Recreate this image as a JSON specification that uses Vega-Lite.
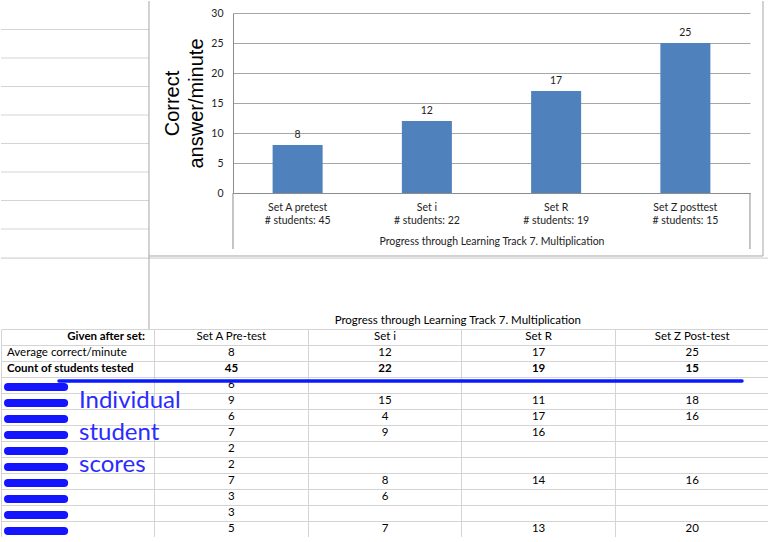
{
  "$schema": "https://vega.github.io/schema/vega-lite/v6.json",
  "padding": 0,
  "background": "white",
  "config": {
    "font": "Lato",
    "view": {"stroke": null},
    "text": {"font": "Lato"}
  },
  "datasets": {
    "bars": [
      {"set": "Set A pretest|# students: 45", "avg": 8},
      {"set": "Set i|# students: 22", "avg": 12},
      {"set": "Set R|# students: 19", "avg": 17},
      {"set": "Set Z posttest|# students: 15", "avg": 25}
    ],
    "sheetRows": [
      {"k": 1}, {"k": 2}, {"k": 3}, {"k": 4}, {"k": 5}, {"k": 6}, {"k": 7}, {"k": 8}
    ],
    "cells": [
      {"row": "head", "col": "label", "text": "Given after set:"},
      {"row": "head", "col": "Set A Pre-test", "text": "Set A Pre-test"},
      {"row": "head", "col": "Set i", "text": "Set i"},
      {"row": "head", "col": "Set R", "text": "Set R"},
      {"row": "head", "col": "Set Z Post-test", "text": "Set Z Post-test"},
      {"row": "avg", "col": "label", "text": "Average correct/minute"},
      {"row": "avg", "col": "Set A Pre-test", "text": "8"},
      {"row": "avg", "col": "Set i", "text": "12"},
      {"row": "avg", "col": "Set R", "text": "17"},
      {"row": "avg", "col": "Set Z Post-test", "text": "25"},
      {"row": "count", "col": "label", "text": "Count of students tested"},
      {"row": "count", "col": "Set A Pre-test", "text": "45"},
      {"row": "count", "col": "Set i", "text": "22"},
      {"row": "count", "col": "Set R", "text": "19"},
      {"row": "count", "col": "Set Z Post-test", "text": "15"},
      {"row": "s01", "col": "label", "text": ""},
      {"row": "s01", "col": "Set A Pre-test", "text": "6"},
      {"row": "s02", "col": "label", "text": ""},
      {"row": "s02", "col": "Set A Pre-test", "text": "9"},
      {"row": "s02", "col": "Set i", "text": "15"},
      {"row": "s02", "col": "Set R", "text": "11"},
      {"row": "s02", "col": "Set Z Post-test", "text": "18"},
      {"row": "s03", "col": "label", "text": ""},
      {"row": "s03", "col": "Set A Pre-test", "text": "6"},
      {"row": "s03", "col": "Set i", "text": "4"},
      {"row": "s03", "col": "Set R", "text": "17"},
      {"row": "s03", "col": "Set Z Post-test", "text": "16"},
      {"row": "s04", "col": "label", "text": ""},
      {"row": "s04", "col": "Set A Pre-test", "text": "7"},
      {"row": "s04", "col": "Set i", "text": "9"},
      {"row": "s04", "col": "Set R", "text": "16"},
      {"row": "s05", "col": "label", "text": ""},
      {"row": "s05", "col": "Set A Pre-test", "text": "2"},
      {"row": "s06", "col": "label", "text": ""},
      {"row": "s06", "col": "Set A Pre-test", "text": "2"},
      {"row": "s07", "col": "label", "text": ""},
      {"row": "s07", "col": "Set A Pre-test", "text": "7"},
      {"row": "s07", "col": "Set i", "text": "8"},
      {"row": "s07", "col": "Set R", "text": "14"},
      {"row": "s07", "col": "Set Z Post-test", "text": "16"},
      {"row": "s08", "col": "label", "text": ""},
      {"row": "s08", "col": "Set A Pre-test", "text": "3"},
      {"row": "s08", "col": "Set i", "text": "6"},
      {"row": "s09", "col": "label", "text": ""},
      {"row": "s09", "col": "Set A Pre-test", "text": "3"},
      {"row": "s10", "col": "label", "text": ""},
      {"row": "s10", "col": "Set A Pre-test", "text": "5"},
      {"row": "s10", "col": "Set i", "text": "7"},
      {"row": "s10", "col": "Set R", "text": "13"},
      {"row": "s10", "col": "Set Z Post-test", "text": "20"}
    ],
    "notes": [
      {"note": "Individual|student|scores", "tableTitle": "Progress through Learning Track 7. Multiplication"}
    ]
  },
  "vconcat": [
    {
      "width": 517,
      "height": 180,
      "data": {"name": "bars"},
      "encoding": {
        "x": {
          "field": "set", "type": "nominal", "sort": null,
          "scale": {"paddingInner": 0.613, "paddingOuter": 0.3065},
          "title": "Progress through Learning Track 7. Multiplication",
          "axis": {
            "labelExpr": "split(datum.label, '|')",
            "labelAngle": 0,
            "labelFont": "Lato",
            "labelFontSize": 10.5,
            "labelColor": "#222",
            "labelLineHeight": 13,
            "labelPadding": 9,
            "ticks": false,
            "domainColor": "#8c8c8c",
            "titleFont": "Lato",
            "titleFontSize": 10.5,
            "titleFontWeight": "normal",
            "titleColor": "#222",
            "titlePadding": 11
          }
        },
        "y": {
          "field": "avg", "type": "quantitative",
          "scale": {"domain": [0, 30], "nice": false},
          "title": ["Correct", "answer/minute"],
          "axis": {
            "values": [0, 5, 10, 15, 20, 25, 30],
            "labelFont": "Lato",
            "labelFontSize": 10.5,
            "labelColor": "#222",
            "labelPadding": 10,
            "ticks": false,
            "domainColor": "#8c8c8c",
            "gridColor": "#a6a6a6",
            "titleFont": "Liberation Sans",
            "titleFontSize": 20,
            "titleFontWeight": "normal",
            "titleColor": "#000",
            "titleLineHeight": 24,
            "titlePadding": 4
          }
        }
      },
      "layer": [
        {"mark": {"type": "bar", "color": "#4f81bd"}},
        {
          "mark": {"type": "text", "dy": -5, "fontSize": 10.5, "color": "#222", "baseline": "bottom", "font": "Lato"},
          "encoding": {"text": {"field": "avg", "type": "quantitative"}}
        }
      ]
    },
    {
      "width": 536,
      "height": 208,
      "encoding": {
        "x": {
          "field": "col", "type": "nominal",
          "scale": {"domain": ["label", "Set A Pre-test", "Set i", "Set R", "Set Z Post-test"], "range": [-232, 536], "paddingInner": 0, "paddingOuter": 0},
          "axis": {"orient": "top", "labels": false, "ticks": false, "domain": false, "title": null,
                   "grid": true, "gridColor": "#d4d4d4", "bandPosition": 0}
        }
      },
      "layer": [
        {
          "encoding": {
            "y": {
              "field": "row", "type": "nominal",
              "scale": {"domain": ["head", "avg", "count", "s01", "s02", "s03", "s04", "s05", "s06", "s07", "s08", "s09", "s10"], "paddingInner": 0, "paddingOuter": 0},
              "axis": {"labels": false, "ticks": false, "domain": false, "title": null,
                       "grid": true, "gridColor": "#d4d4d4", "bandPosition": 0}
            }
          },
          "layer": [
            {
              "data": {"name": "notes"},
              "mark": {"type": "text", "align": "center", "fontSize": 11.5, "color": "#000", "xOffset": -4},
              "encoding": {
                "x": {"datum": "Set i", "bandPosition": 1},
                "y": {"datum": "head", "bandPosition": -0.5},
                "text": {"field": "tableTitle"}
              }
            },
            {
              "data": {"name": "cells"},
              "transform": [{"filter": "datum.row == 'head' && datum.col == 'label'"}],
              "mark": {"type": "text", "align": "right", "fontSize": 11.5, "fontWeight": "bold", "color": "#000", "dx": -4},
              "encoding": {
                "x": {"field": "col", "type": "nominal", "bandPosition": 0.9635},
                "text": {"field": "text"}
              }
            },
            {
              "data": {"name": "cells"},
              "transform": [{"filter": "datum.col == 'label' && datum.row == 'avg'"}],
              "mark": {"type": "text", "align": "left", "fontSize": 11.5, "color": "#000", "dx": 6},
              "encoding": {
                "x": {"field": "col", "type": "nominal", "bandPosition": 0},
                "text": {"field": "text"}
              }
            },
            {
              "data": {"name": "cells"},
              "transform": [{"filter": "datum.col == 'label' && datum.row == 'count'"}],
              "mark": {"type": "text", "align": "left", "fontSize": 11.5, "fontWeight": "bold", "color": "#000", "dx": 6},
              "encoding": {
                "x": {"field": "col", "type": "nominal", "bandPosition": 0},
                "text": {"field": "text"}
              }
            },
            {
              "data": {"name": "cells"},
              "transform": [{"filter": "datum.col != 'label' && datum.row != 'count'"}],
              "mark": {"type": "text", "align": "center", "fontSize": 11.5, "color": "#000"},
              "encoding": {"text": {"field": "text"}}
            },
            {
              "data": {"name": "cells"},
              "transform": [{"filter": "datum.col != 'label' && datum.row == 'count'"}],
              "mark": {"type": "text", "align": "center", "fontSize": 11.5, "fontWeight": "bold", "color": "#000"},
              "encoding": {"text": {"field": "text"}}
            },
            {
              "data": {"name": "cells"},
              "transform": [{"filter": "datum.col == 'label' && indexof(datum.row, 's') == 0"}],
              "mark": {"type": "rule", "color": "#1414ff", "strokeWidth": 8, "strokeCap": "round", "xOffset": 7, "x2Offset": -6},
              "encoding": {
                "x": {"field": "col", "type": "nominal", "bandPosition": 0},
                "x2": {"datum": "label", "bandPosition": 0.45},
                "y": {"field": "row", "type": "nominal", "bandPosition": 0.62}
              }
            },
            {
              "data": {"name": "notes"},
              "mark": {"type": "rule", "color": "#0a1aff", "strokeWidth": 3.5, "strokeCap": "round", "xOffset": 58, "x2Offset": -27, "yOffset": 4},
              "encoding": {
                "x": {"datum": "label", "bandPosition": 0},
                "x2": {"datum": "Set Z Post-test", "bandPosition": 1},
                "y": {"datum": "s01", "bandPosition": 0}
              }
            },
            {
              "data": {"name": "notes"},
              "mark": {"type": "text", "align": "left", "baseline": "middle", "fontSize": 24, "color": "#2b2bff", "lineBreak": "|", "lineHeight": 32, "xOffset": 78},
              "encoding": {
                "x": {"datum": "label", "bandPosition": 0},
                "y": {"datum": "s02"},
                "text": {"field": "note"}
              }
            }
          ]
        },
        {
          "encoding": {
            "y": {"type": "quantitative", "axis": null,
                  "scale": {"domain": [0, 10], "range": [-328, -43], "zero": false, "nice": false}}
          },
          "layer": [
            {
              "data": {"name": "sheetRows"},
              "mark": {"type": "rule", "color": "#d4d4d4", "strokeWidth": 1},
              "encoding": {
                "x": {"datum": "label", "bandPosition": 0},
                "x2": {"datum": "label", "bandPosition": 0.9635},
                "y": {"field": "k", "type": "quantitative"}
              }
            },
            {
              "data": {"name": "notes"},
              "mark": {"type": "rule", "color": "#c8c8c8", "strokeWidth": 1},
              "encoding": {
                "x": {"datum": "label", "bandPosition": 0},
                "x2": {"datum": "Set Z Post-test", "bandPosition": 1},
                "y": {"datum": 9.02, "type": "quantitative"}
              }
            },
            {
              "data": {"name": "notes"},
              "mark": {"type": "rule", "color": "#a6a6a6", "strokeWidth": 1},
              "encoding": {
                "x": {"datum": "label", "bandPosition": 0.9635},
                "y": {"datum": 0, "type": "quantitative"},
                "y2": {"datum": 11.51}
              }
            },
            {
              "data": {"name": "notes"},
              "mark": {"type": "rule", "color": "#a6a6a6", "strokeWidth": 1},
              "encoding": {
                "x": {"datum": "Set Z Post-test", "bandPosition": 0.961},
                "y": {"datum": 0, "type": "quantitative"},
                "y2": {"datum": 8.947}
              }
            },
            {
              "data": {"name": "notes"},
              "mark": {"type": "rule", "color": "#a6a6a6", "strokeWidth": 1},
              "encoding": {
                "x": {"datum": "label", "bandPosition": 0.9635},
                "x2": {"datum": "Set Z Post-test", "bandPosition": 0.961},
                "y": {"datum": 8.947, "type": "quantitative"}
              }
            },
            {
              "data": {"name": "notes"},
              "mark": {"type": "rule", "color": "#8c8c8c", "strokeWidth": 1},
              "encoding": {
                "x": {"datum": "Set A Pre-test", "bandPosition": 0.5104},
                "y": {"datum": 6.737, "type": "quantitative"},
                "y2": {"datum": 8.702}
              }
            },
            {
              "data": {"name": "notes"},
              "mark": {"type": "rule", "color": "#8c8c8c", "strokeWidth": 1},
              "encoding": {
                "x": {"datum": "Set Z Post-test", "bandPosition": 0.876},
                "y": {"datum": 6.737, "type": "quantitative"},
                "y2": {"datum": 8.702}
              }
            }
          ]
        }
      ],
      "resolve": {"scale": {"y": "independent"}, "axis": {"y": "independent"}}
    }
  ],
  "spacing": 136,
  "bounds": "flush"
}
